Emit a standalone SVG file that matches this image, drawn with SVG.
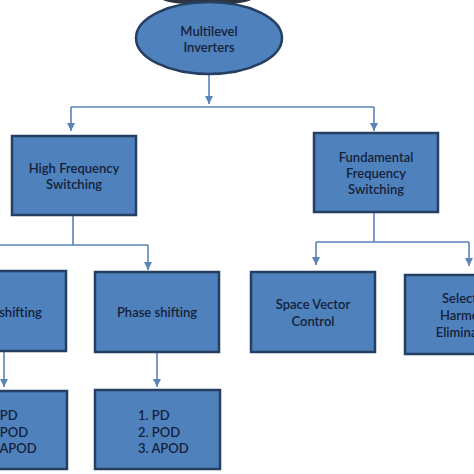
<svg xmlns="http://www.w3.org/2000/svg" width="474" height="474" viewBox="0 0 474 474">
  <style>
    .node { fill: #4f81bd; stroke: #253f62; stroke-width: 2.5; }
    .lbl { font-family: Lato, "Open Sans", "Liberation Sans", sans-serif; font-size: 13px; font-weight: 600; fill: #14223a; text-anchor: middle; }
    .lst { text-anchor: start; }
    .conn { stroke: #5a83ba; stroke-width: 1.6; fill: none; }
  </style>
  <defs>
    <marker id="arr" markerUnits="userSpaceOnUse" markerWidth="9" markerHeight="9" refX="8" refY="4" orient="auto">
      <path d="M0,0 L8,4 L0,8 z" fill="#5a83ba"/>
    </marker>
  </defs>
  <rect width="474" height="474" fill="#ffffff"/>
  <ellipse cx="207" cy="-2" rx="46" ry="7" fill="#2f3540"/>

  <g id="connectors">
    <line class="conn" x1="209" y1="74" x2="209" y2="104" marker-end="url(#arr)"/>
    <line class="conn" x1="71" y1="107" x2="374" y2="107"/>
    <line class="conn" x1="71" y1="107" x2="71" y2="131" marker-end="url(#arr)"/>
    <line class="conn" x1="374" y1="107" x2="374" y2="131" marker-end="url(#arr)"/>

    <line class="conn" x1="73" y1="215" x2="73" y2="245"/>
    <line class="conn" x1="-5" y1="245" x2="148" y2="245"/>
    <line class="conn" x1="148" y1="245" x2="148" y2="270" marker-end="url(#arr)"/>

    <line class="conn" x1="374" y1="212" x2="374" y2="242"/>
    <line class="conn" x1="316" y1="242" x2="469" y2="242"/>
    <line class="conn" x1="316" y1="242" x2="316" y2="265" marker-end="url(#arr)"/>
    <line class="conn" x1="469" y1="242" x2="469" y2="266" marker-end="url(#arr)"/>

    <line class="conn" x1="4" y1="351" x2="4" y2="387" marker-end="url(#arr)"/>
    <line class="conn" x1="157" y1="352" x2="157" y2="387" marker-end="url(#arr)"/>
  </g>

  <g id="multilevel-inverters">
    <ellipse class="node" cx="209" cy="38" rx="73" ry="36"/>
    <text class="lbl" x="209" y="35.5">Multilevel</text>
    <text class="lbl" x="209" y="51.5">Inverters</text>
  </g>

  <g id="high-frequency-switching">
    <rect class="node" x="12" y="136" width="124" height="79"/>
    <text class="lbl" x="74" y="172.5">High Frequency</text>
    <text class="lbl" x="74" y="188.5">Switching</text>
  </g>

  <g id="fundamental-frequency-switching">
    <rect class="node" x="314" y="133" width="124" height="79"/>
    <text class="lbl" x="376" y="161.5">Fundamental</text>
    <text class="lbl" x="376" y="177.5">Frequency</text>
    <text class="lbl" x="376" y="193.5">Switching</text>
  </g>

  <g id="level-shifting">
    <rect class="node" x="-58" y="271" width="124" height="80"/>
    <text class="lbl" x="4" y="316.5">Level shifting</text>
  </g>

  <g id="phase-shifting">
    <rect class="node" x="95" y="272" width="124" height="80"/>
    <text class="lbl" x="157" y="316.5">Phase shifting</text>
  </g>

  <g id="space-vector-control">
    <rect class="node" x="251" y="272" width="124" height="80"/>
    <text class="lbl" x="313" y="308.5">Space Vector</text>
    <text class="lbl" x="313" y="325.5">Control</text>
  </g>

  <g id="selective-harmonic-elimination">
    <rect class="node" x="405" y="275" width="124" height="79"/>
    <text class="lbl" x="468" y="302.5">Selective</text>
    <text class="lbl" x="468" y="319.5">Harmonic</text>
    <text class="lbl" x="468" y="336.5">Elimination</text>
  </g>

  <g id="level-shifting-list">
    <rect class="node" x="-57" y="391" width="124" height="78"/>
    <text class="lbl lst" x="-14" y="419.5">1. PD</text>
    <text class="lbl lst" x="-14" y="436.5">2. POD</text>
    <text class="lbl lst" x="-14" y="452.5">3. APOD</text>
  </g>

  <g id="phase-shifting-list">
    <rect class="node" x="95" y="390" width="125" height="79"/>
    <text class="lbl lst" x="138" y="419.5">1. PD</text>
    <text class="lbl lst" x="138" y="436.5">2. POD</text>
    <text class="lbl lst" x="138" y="452.5">3. APOD</text>
  </g>
</svg>
